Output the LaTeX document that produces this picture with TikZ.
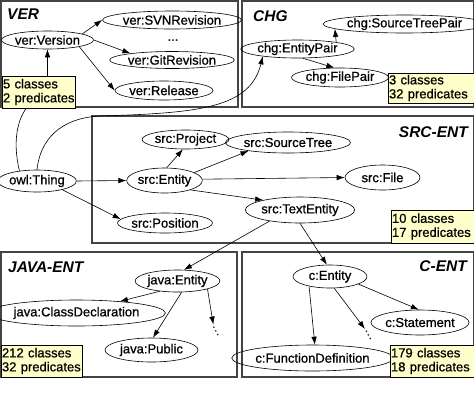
\documentclass[tikz,border=0pt]{standalone}
\usepackage{fontspec}
\setmainfont{Liberation Sans}[UprightFeatures={FakeBold=0.8}]
\newfontfamily\symfont{DejaVu Sans}
\usetikzlibrary{shapes.geometric,arrows.meta}
\definecolor{noteyellow}{HTML}{FFFFCC}
\definecolor{framegray}{HTML}{444444}
\begin{document}
\begin{tikzpicture}[x=1pt,y=-1pt,
  every node/.style={font=\fontsize{13}{14}\selectfont},
  cls/.style={ellipse,draw,line width=0.6pt,inner sep=0pt},
  grp/.style={draw=framegray,line width=1.1pt},
  grplabel/.style={font=\fontsize{15.5}{16}\selectfont\bfseries\itshape,inner sep=0pt},
  note/.style={draw,line width=0.6pt,fill=noteyellow,inner xsep=1pt,inner ysep=0pt,align=left},
  arr/.style={-{Latex[length=8pt,width=5.5pt]},line width=0.6pt},
  vdotsty/.style={inner sep=0pt,rotate=28,font=\symfont\fontsize{12}{12}\selectfont}]
\useasboundingbox (0,0) rectangle (474,408);
% group frames
\draw[grp] (1,1) rectangle (238,107);
\draw[grp] (242,1) rectangle (473.5,107);
\draw[grp] (92,116) rectangle (473.5,243);
\draw[grp] (1,252) rectangle (237,377);
\draw[grp] (242,252) rectangle (473.5,377);
% group labels
\node[grplabel,anchor=west] (lver) at (7,14) {VER};
\node[grplabel,anchor=west] (lchg) at (253,16) {CHG};
\node[grplabel,anchor=east] (lsrc) at (468,132) {SRC-ENT};
\node[grplabel,anchor=west] (ljava) at (8,267) {JAVA-ENT};
\node[grplabel,anchor=east] (lc) at (467,266) {C-ENT};
% VER
\node[cls,minimum width=71pt,minimum height=18pt] (ver) at (47.5,40) {ver:Version};
\node[cls,minimum width=120pt,minimum height=18pt] (svn) at (172,20) {ver:SVNRevision};
\node[inner sep=0pt] (vdots) at (173,40) {...};
\node[cls,minimum width=120pt,minimum height=17pt] (git) at (172,60) {ver:GitRevision};
\node[cls,minimum width=98pt,minimum height=19pt] (rel) at (164,90.5) {ver:Release};
% CHG
\node[cls,minimum width=95pt,minimum height=18pt] (epair) at (297.5,49) {chg:EntityPair};
\node[cls,minimum width=125pt,minimum height=18pt] (stpair) at (404.5,24) {chg:SourceTreePair};
\node[cls,minimum width=90pt,minimum height=19pt] (fpair) at (340,77.5) {chg:FilePair};
% SRC-ENT
\node[cls,minimum width=73pt,minimum height=22pt] (owl) at (37,181) {owl:Thing};
\node[cls,minimum width=75pt,minimum height=19pt] (proj) at (185.5,139.5) {src:Project};
\node[cls,minimum width=75pt,minimum height=25pt] (sent) at (164.5,180.5) {src:Entity};
\node[cls,minimum width=76pt,minimum height=20pt] (pos) at (165,223) {src:Position};
\node[cls,minimum width=100pt,minimum height=21pt] (stree) at (288,142.5) {src:SourceTree};
\node[cls,minimum width=75pt,minimum height=25pt] (file) at (382.5,177.5) {src:File};
\node[cls,minimum width=90pt,minimum height=26pt] (tent) at (300,210) {src:TextEntity};
% JAVA-ENT
\node[cls,minimum width=69pt,minimum height=22pt] (jent) at (177.5,281) {java:Entity};
\node[cls,minimum width=143pt,minimum height=26pt] (jcd) at (76.5,313) {java:ClassDeclaration};
\node[cls,minimum width=93pt,minimum height=24pt] (jpub) at (151.5,350) {java:Public};
\node[vdotsty] (jdots) at (216,331) {⋮};
% C-ENT
\node[cls,minimum width=74pt,minimum height=23pt] (cent) at (330,276.5) {c:Entity};
\node[cls,minimum width=94pt,minimum height=25pt] (cstat) at (420,322.5) {c:Statement};
\node[cls,minimum width=129pt,minimum height=26pt] (cfd) at (312.5,358) {c:FunctionDefinition};
\node[vdotsty] (cdots) at (368.5,335) {⋮};
% connectors
\draw[arr] (ver.10) -- (svn.west);
\draw[arr] (ver.east) -- (git.171);
\draw[arr] (ver.348) -- (rel.west);
\draw[arr] (epair.10) -- (stpair.184);
\draw[arr] (epair.300) -- (fpair.120);
\draw[arr] (owl.150) .. controls (12,140) and (18,118) .. (28,106) -- (47.5,80) -- (ver.south);
\draw[arr] (owl.north) .. controls (40,140) and (60,118) .. (100,116) .. controls (200,113) and (250,108) .. (epair.192);
\draw[arr] (owl.east) -- (sent.west);
\draw[arr] (owl.341) -- (pos.175);
\draw[arr] (sent.80) -- (proj.255);
\draw[arr] (sent.15) -- (stree.192);
\draw[arr] (sent.2) -- (file.west);
\draw[arr] (sent.340) -- (tent.165);
\draw[arr] (tent.200) -- (jent.60);
\draw[arr] (tent.270) -- (cent.105);
\draw[arr] (jent.210) -- (jcd.15);
\draw[arr] (jent.290) -- (jpub.83);
\draw[arr,shorten >=2pt] (jent.345) -- (jdots.north);
\draw[arr] (cent.205) -- (cfd.80);
\draw[arr] (cent.345) -- (cstat.95);
\draw[arr,shorten >=2pt] (cent.290) -- (cdots.north);
% notes
\node[note,minimum width=73pt,minimum height=32pt,text width=71pt] (nver) at (38.5,92) {\mbox{5 classes}\\\mbox{2 predicates}};
\node[note,minimum width=86pt,minimum height=30pt,text width=84pt] (nchg) at (431,88) {\mbox{3 classes}\\\mbox{32 predicates}};
\node[note,minimum width=83pt,minimum height=33pt,text width=81pt] (nsrc) at (432.5,226.5) {\mbox{10 classes}\\\mbox{17 predicates}};
\node[note,minimum width=81pt,minimum height=32pt,text width=79pt] (njava) at (41.5,361) {\mbox{212 classes}\\\mbox{32 predicates}};
\node[note,minimum width=84pt,minimum height=32pt,text width=82pt] (nc) at (432,361) {\mbox{179 classes}\\\mbox{18 predicates}};
\end{tikzpicture}
\end{document}
